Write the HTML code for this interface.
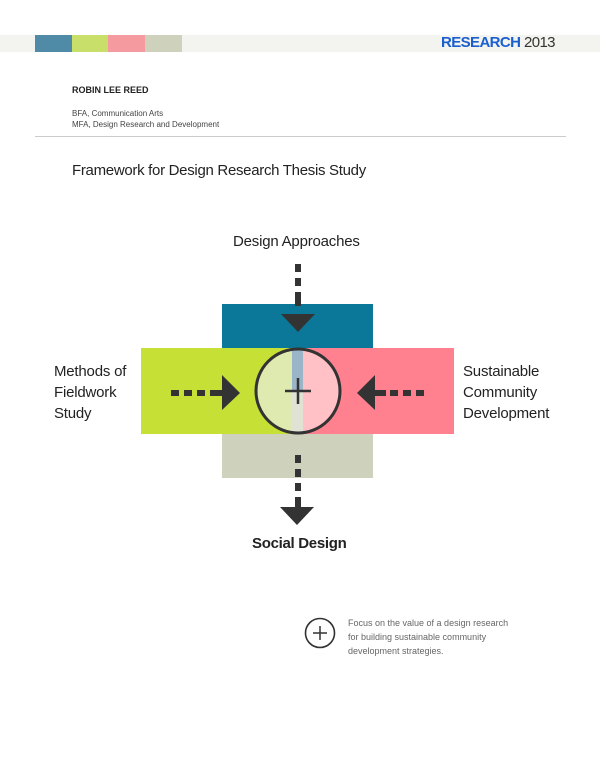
<!DOCTYPE html>
<html><head><meta charset="utf-8"><style>
body{margin:0;width:600px;height:776px;background:#fff;position:relative;font-family:"Liberation Sans",sans-serif;overflow:hidden}
.a{position:absolute;white-space:nowrap}
</style></head><body>
<div class="a" style="left:0;top:35px;width:600px;height:17px;background:#f3f3ef"></div>
<div class="a" style="left:35px;top:35px;width:37px;height:17px;background:#4f8aa6"></div>
<div class="a" style="left:72px;top:35px;width:36px;height:17px;background:#c8e06a"></div>
<div class="a" style="left:108px;top:35px;width:37px;height:17px;background:#f59a9e"></div>
<div class="a" style="left:145px;top:35px;width:37px;height:17px;background:#ced1bb"></div>
<div class="a" style="left:441px;top:34px;font-size:15px;letter-spacing:-0.6px;color:#333"><span style="color:#1a5fd0;font-weight:bold">RESEARCH</span> 2013</div>
<div class="a" style="left:72px;top:85px;font-size:9px;font-weight:bold;color:#222">ROBIN LEE REED</div>
<div class="a" style="left:72px;top:108px;font-size:8px;color:#444;line-height:11px">BFA, Communication Arts<br>MFA, Design Research and Development</div>
<div class="a" style="left:35px;top:136px;width:531px;height:1px;background:#ccc"></div>
<div class="a" style="left:72px;top:162px;font-size:15px;letter-spacing:-0.3px;color:#222">Framework for Design Research Thesis Study</div>
<div class="a" style="left:233px;top:233px;font-size:15px;letter-spacing:-0.2px;color:#222">Design Approaches</div>
<div class="a" style="left:54px;top:361px;font-size:15px;letter-spacing:-0.2px;color:#222;line-height:21px">Methods of<br>Fieldwork<br>Study</div>
<div class="a" style="left:463px;top:361px;font-size:15px;letter-spacing:-0.2px;color:#222;line-height:21px">Sustainable<br>Community<br>Development</div>
<div class="a" style="left:252px;top:535px;font-size:15px;letter-spacing:-0.3px;font-weight:bold;color:#222">Social Design</div>
<svg class="a" style="left:0;top:0" width="600" height="776">
<rect x="222" y="304" width="151" height="44" fill="#0c7899"/>
<rect x="222" y="434" width="151" height="44" fill="#ced1bb"/>
<rect x="141" y="348" width="157" height="86" fill="#c7e036"/>
<rect x="298" y="348" width="156" height="86" fill="#ff8190"/>
<path d="M298 348 A43 43 0 0 0 298 434 Z" fill="#dfeab0"/>
<path d="M298 348 A43 43 0 0 1 298 434 Z" fill="#ffc0c6"/>
<rect x="292" y="348" width="11" height="43" fill="#9ab4c8"/>
<rect x="292" y="391" width="11" height="43" fill="#e0e2d4"/>
<circle cx="298" cy="391" r="42" fill="none" stroke="#333" stroke-width="3"/>
<path d="M285 391h26M298 378v26" stroke="#333" stroke-width="2.5"/>
<g fill="#333">
<rect x="295" y="264" width="6" height="8"/><rect x="295" y="278" width="6" height="8"/><rect x="295" y="292" width="6" height="14"/>
<polygon points="281,314 315,314 298,332"/>
<rect x="171" y="390" width="8" height="6"/><rect x="184" y="390" width="8" height="6"/><rect x="197" y="390" width="8" height="6"/><rect x="210" y="390" width="14" height="6"/>
<polygon points="222,375 240,393 222,410"/>
<rect x="416" y="390" width="8" height="6"/><rect x="403" y="390" width="8" height="6"/><rect x="390" y="390" width="8" height="6"/><rect x="372" y="390" width="14" height="6"/>
<polygon points="375,375 357,393 375,410"/>
<rect x="295" y="455" width="6" height="8"/><rect x="295" y="469" width="6" height="8"/><rect x="295" y="483" width="6" height="8"/><rect x="295" y="497" width="6" height="10"/>
<polygon points="280,507 314,507 297,525"/>
</g>
<circle cx="320" cy="633" r="14.5" fill="none" stroke="#333" stroke-width="1.6"/>
<path d="M313 633h14M320 626v14" stroke="#333" stroke-width="1.5"/>
</svg>
<div class="a" style="left:348px;top:616px;font-size:9px;color:#666;line-height:14px">Focus on the value of a design research<br>for building sustainable community<br>development strategies.</div>
</body></html>
